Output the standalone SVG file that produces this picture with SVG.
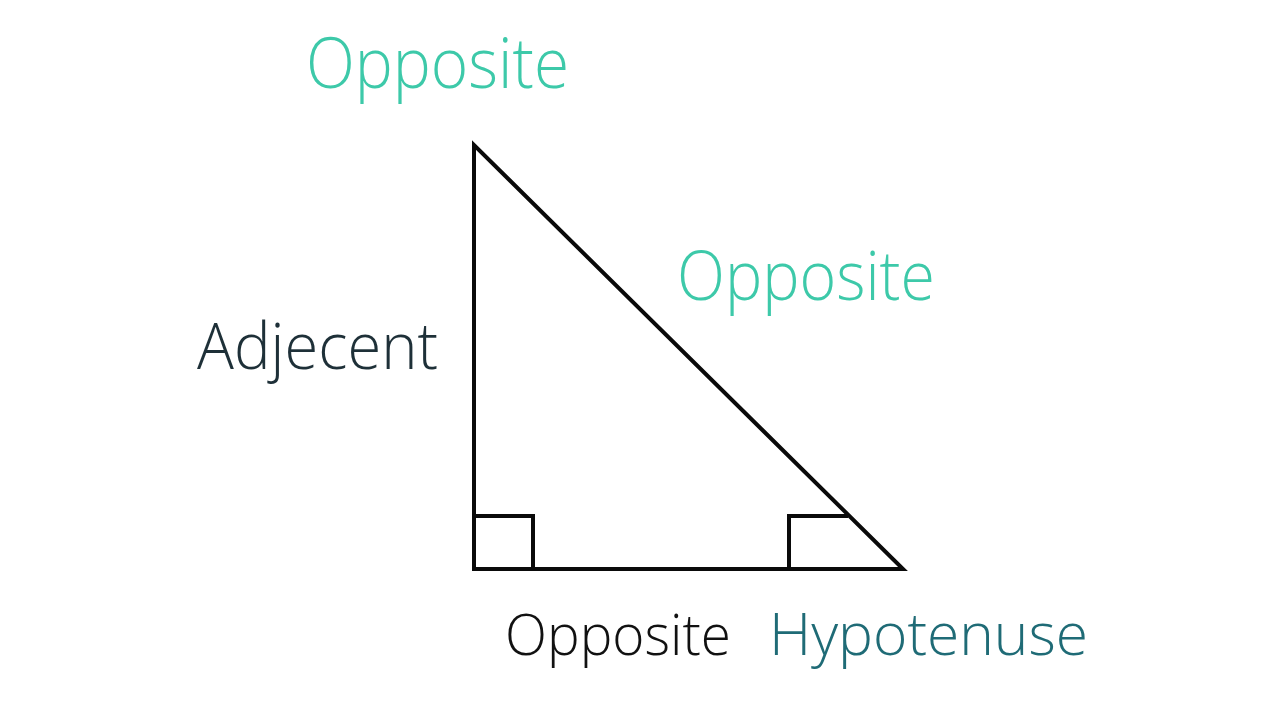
<svg xmlns="http://www.w3.org/2000/svg" width="1280" height="720" viewBox="0 0 1280 720">
<style>
.t{font-family:"Open Sans","Noto Sans",sans-serif;font-weight:300}
.teal{fill:#3dc9a9}
.ln{fill:none;stroke:#0a0a0a;stroke-width:4;stroke-linejoin:miter;stroke-linecap:square}
</style>
<rect width="1280" height="720" fill="#ffffff"/>
<g id="triangle">
<path class="ln" d="M474,145 L474,569 L903,569 Z"/>
</g>
<g id="right-angle-left">
<path class="ln" d="M474,516 L533,516 L533,569"/>
</g>
<g id="right-angle-right">
<path class="ln" d="M789,569 L789,516 L846,516"/>
</g>
<g id="label-top-opposite">
<text class="t teal" x="306" y="88" font-size="70" textLength="263" lengthAdjust="spacingAndGlyphs">Opposite</text>
</g>
<g id="label-mid-opposite">
<text class="t teal" x="677" y="300" font-size="69" textLength="258" lengthAdjust="spacingAndGlyphs">Opposite</text>
</g>
<g id="label-adjecent">
<text class="t" x="197" y="369" font-size="65" fill="#1e3038" textLength="241" lengthAdjust="spacingAndGlyphs">Adjecent</text>
</g>
<g id="label-bottom-opposite">
<text class="t" x="505" y="655" font-size="57" fill="#111111" textLength="226" lengthAdjust="spacingAndGlyphs">Opposite</text>
</g>
<g id="label-hypotenuse">
<text class="t" x="769" y="655" font-size="59" fill="#1f6b76" textLength="319" lengthAdjust="spacingAndGlyphs">Hypotenuse</text>
</g>
</svg>
